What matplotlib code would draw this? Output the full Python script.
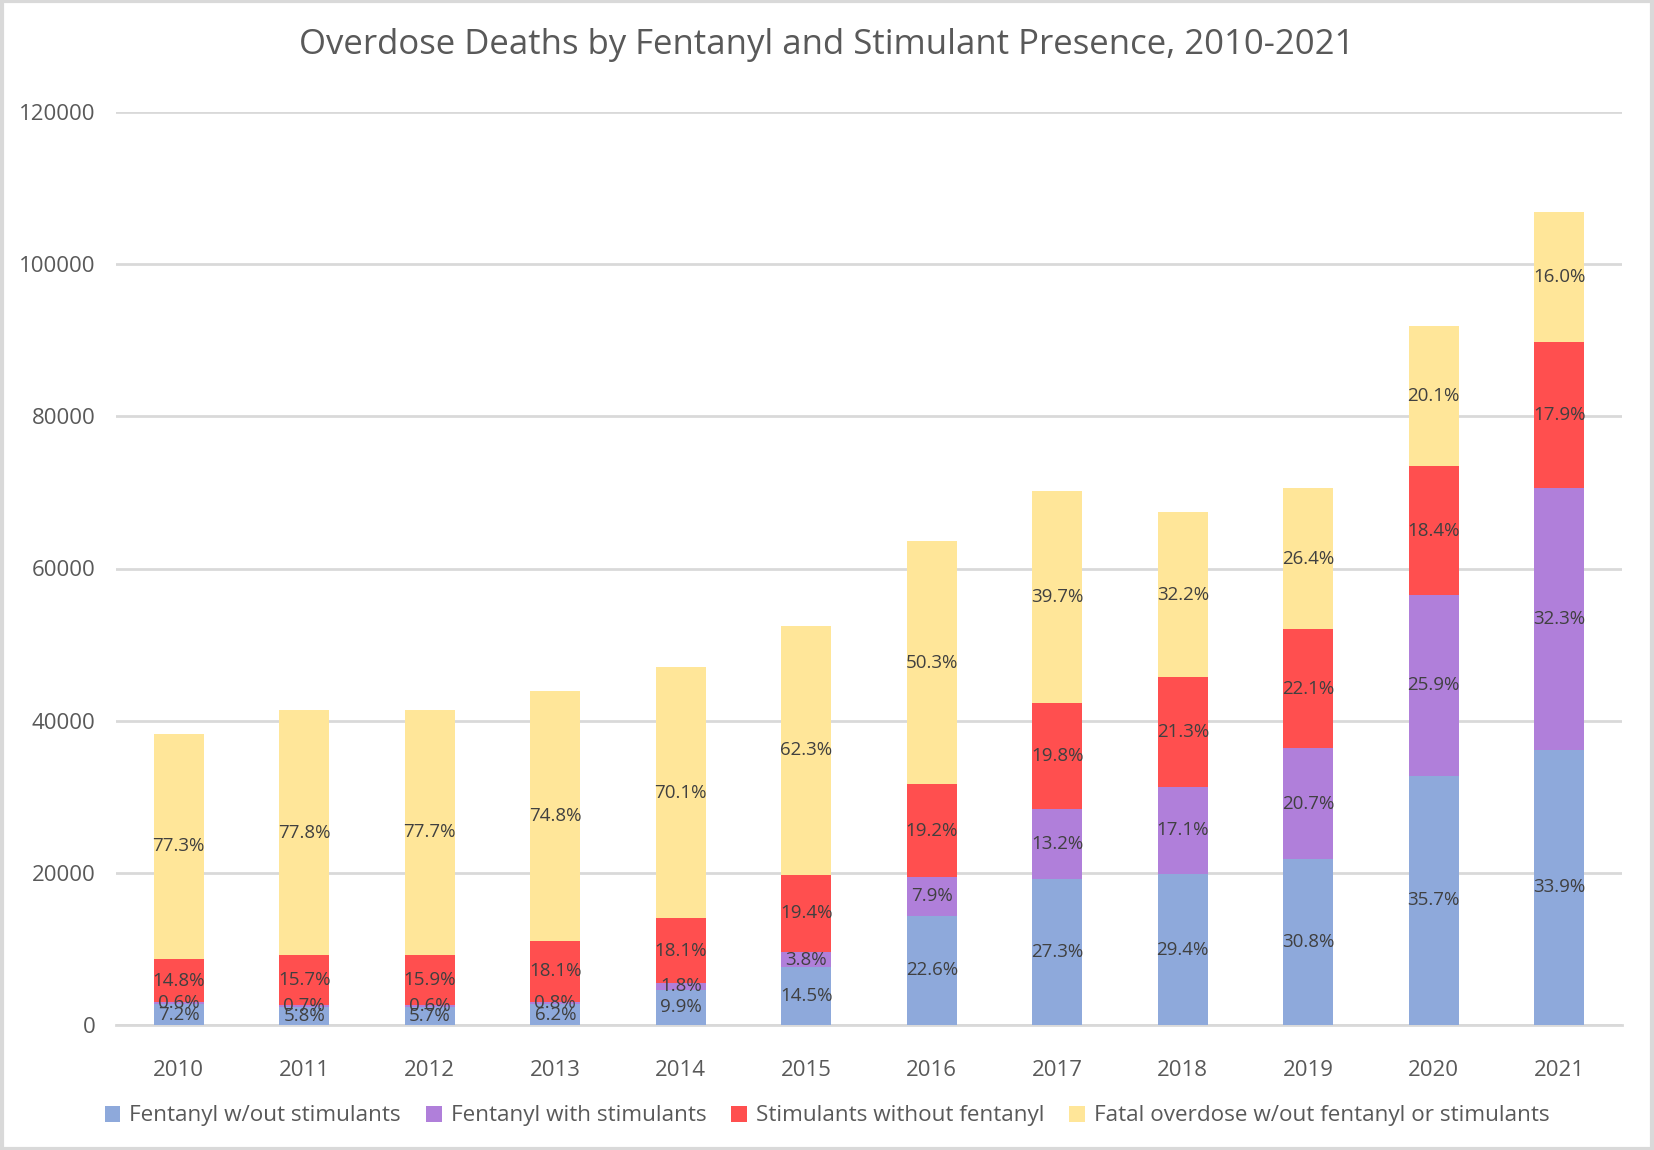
import numpy as np
import matplotlib
matplotlib.use('Agg')
import matplotlib.pyplot as plt
from matplotlib.patches import Rectangle

plt.rcParams['font.family'] = ['Open Sans', 'DejaVu Sans']

# ============ 数据 ============
years = ['2010', '2011', '2012', '2013', '2014', '2015',
         '2016', '2017', '2018', '2019', '2020', '2021']
totals = [38329, 41340, 41502, 43982, 47055, 52404,
          63632, 70237, 67367, 70630, 91799, 106699]

# 各类占比 (%)
pct_fent_only = [7.2, 5.8, 5.7, 6.2, 9.9, 14.5, 22.6, 27.3, 29.4, 30.8, 35.7, 33.9]
pct_fent_stim = [0.6, 0.7, 0.6, 0.8, 1.8, 3.8, 7.9, 13.2, 17.1, 20.7, 25.9, 32.3]
pct_stim_only = [14.8, 15.7, 15.9, 18.1, 18.1, 19.4, 19.2, 19.8, 21.3, 22.1, 18.4, 17.9]
pct_other = [77.3, 77.8, 77.7, 74.8, 70.1, 62.3, 50.3, 39.7, 32.2, 26.4, 20.1, 16.0]

series_names = ['Fentanyl w/out stimulants', 'Fentanyl with stimulants',
                'Stimulants without fentanyl',
                'Fatal overdose w/out fentanyl or stimulants']
colors = ['#8EA9DB', '#B07FDA', '#FF4F4F', '#FFE699']

pcts = [pct_fent_only, pct_fent_stim, pct_stim_only, pct_other]
tot = np.array(totals, dtype=float)

# ============ 画图 ============
fig = plt.figure(figsize=(16.54, 11.5), dpi=100)
ax = fig.add_axes([116 / 1654, 1 - 1025 / 1150, (1622 - 116) / 1654, (1025 - 112) / 1150])

x = np.arange(len(years))
bottom = np.zeros(len(years))
for name, col, p in zip(series_names, colors, pcts):
    vals = tot * np.array(p) / 100
    ax.bar(x, vals, width=0.4, bottom=bottom, color=col, label=name, zorder=3)
    # 段中心标注百分比
    for xi, b, v, pv in zip(x, bottom, vals, p):
        ax.text(xi, b + v / 2, f'{pv:.1f}%', ha='center', va='center',
                fontsize=13.5, color='#404040', zorder=4)
    bottom += vals

ax.set_xlim(-0.5, len(years) - 0.5)
ax.set_ylim(0, 120000)
ax.set_yticks(np.arange(0, 120001, 20000))
ax.set_yticklabels([str(v) for v in range(0, 120001, 20000)])
ax.set_xticks(x)
ax.set_xticklabels(years)
ax.tick_params(axis='both', length=0, labelsize=16, colors='#595959')
ax.tick_params(axis='x', pad=25)
ax.tick_params(axis='y', pad=15)
ax.grid(axis='y', color='#D9D9D9', linewidth=2, zorder=0)
for s in ['top', 'right', 'left']:
    ax.spines[s].set_visible(False)
ax.spines['bottom'].set_color('#D9D9D9')
ax.spines['bottom'].set_linewidth(2)

fig.text(0.5, 1 - 45 / 1150, 'Overdose Deaths by Fentanyl and Stimulant Presence, 2010-2021',
         ha='center', va='center', fontsize=25, color='#595959')

fig.legend(loc='center', bbox_to_anchor=(0.5, 1 - 1116 / 1150), ncol=4, frameon=False,
           fontsize=16.2, labelcolor='#595959', handlelength=0.7, handleheight=0.7,
           handletextpad=0.4, columnspacing=1.1)

# 外框
fig.patches.append(Rectangle((0.001, 0.001), 0.998, 0.998, transform=fig.transFigure,
                             fill=False, edgecolor='#D9D9D9', linewidth=3))

fig.savefig('out.png', dpi=100)
